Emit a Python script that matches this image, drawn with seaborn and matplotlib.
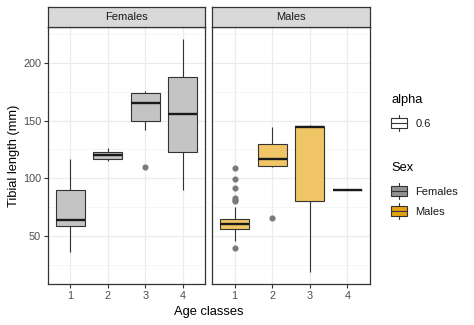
import matplotlib
matplotlib.use("Agg")
import matplotlib.pyplot as plt
import seaborn as sns
import pandas as pd
from matplotlib.patches import Patch, Rectangle
from matplotlib.lines import Line2D
from matplotlib.legend_handler import HandlerBase

sns.set_theme(style="white")
plt.rcParams['font.family'] = ['Liberation Sans', 'DejaVu Sans']

# ---- data ----
sexes = ["Females", "Males"]
age_classes = [1, 2, 3, 4]
females_age1 = [36, 58.6, 64, 90, 117]
females_age2 = [115.4, 116.3, 120, 123, 126]
females_age3 = [110, 142, 150, 150, 165, 170, 174, 175, 176]
females_age4 = [90, 123, 156, 188, 221]
males_age1 = [40, 46, 48, 50, 51, 52, 53, 55, 56, 57, 57.5, 58, 58.5, 59, 59.5,
              60, 60.6, 61, 61.5, 62, 62.5, 63, 63.5, 64, 65, 70, 75,
              80, 81.4, 83, 91.5, 99.3, 108.5]
males_age2 = [65.5, 110, 111, 114, 117, 122, 129.6, 138, 144.6]
males_age3 = [18.5, 80.5, 144.6, 145, 146.6]
males_age4 = [90]

groups = {
    ("Females", 1): females_age1, ("Females", 2): females_age2,
    ("Females", 3): females_age3, ("Females", 4): females_age4,
    ("Males", 1): males_age1, ("Males", 2): males_age2,
    ("Males", 3): males_age3, ("Males", 4): males_age4,
}
rows = []
for (sex, age), vals in groups.items():
    for v in vals:
        rows.append({"Sex": sex, "Age": age, "Length": v})
df = pd.DataFrame(rows)

key_colors = {"Females": "#929292", "Males": "#E5A00F"}
fill_colors = {"Females": "#C4C4C4", "Males": "#F0C566"}
edge = "#333333"

W, H = 474, 325
fig = plt.figure(figsize=(W / 100, H / 100), dpi=100)

panel_x = [(48, 205), (212, 370)]
top_px, bot_px, strip_top = 27, 284, 7

for (x0, x1), sex in zip(panel_x, sexes):
    ax = fig.add_axes([x0 / W, 1 - bot_px / H, (x1 - x0) / W, (bot_px - top_px) / H])
    sub = df[df["Sex"] == sex]
    sns.boxplot(data=sub, x="Age", y="Length", order=age_classes, ax=ax,
                color=fill_colors[sex], saturation=1, width=0.78,
                linecolor=edge, linewidth=0.8, showcaps=False,
                medianprops=dict(color="#1A1A1A", linewidth=1.7),
                flierprops=dict(marker="o", markersize=3.4,
                                markerfacecolor="#7A7A7A", markeredgecolor="#7A7A7A"),
                zorder=3)
    ax.set_ylim(8.4, 231.1)
    ax.set_xlim(-0.6, 3.6)
    ax.set_facecolor("white")
    ax.set_yticks([50, 100, 150, 200])
    ax.set_yticks([25, 75, 125, 175, 225], minor=True)
    ax.grid(True, which="major", color="#EBEBEB", linewidth=0.9, zorder=0)
    ax.grid(True, which="minor", axis="y", color="#F2F2F2", linewidth=0.5, zorder=0)
    ax.set_axisbelow(True)
    for s in ax.spines.values():
        s.set_color("#333333")
        s.set_linewidth(0.9)
    ax.tick_params(axis="both", which="major", length=3, width=0.8, color="#333333",
                   labelsize=7.8, labelcolor="#4D4D4D", pad=2,
                   left=True, bottom=True)
    ax.tick_params(axis="y", which="minor", length=0)
    ax.set_xlabel("")
    ax.set_ylabel("")
    if sex == "Males":
        ax.tick_params(axis="y", labelleft=False, left=False)
    # strip
    sax = fig.add_axes([x0 / W, 1 - top_px / H, (x1 - x0) / W, (top_px - strip_top) / H])
    sax.set_facecolor("#D9D9D9")
    sax.set_xticks([]); sax.set_yticks([])
    for s in sax.spines.values():
        s.set_color("#333333")
        s.set_linewidth(0.9)
    sax.text(0.5, 0.5, sex, ha="center", va="center", fontsize=8, color="#1A1A1A",
             transform=sax.transAxes)

fig.text((48 + 370) / 2 / W, 1 - 312 / H, "Age classes", ha="center", va="center",
         fontsize=9.3, color="black")
fig.text(14 / W, 1 - ((top_px + bot_px) / 2) / H, "Tibial length (mm)", ha="center",
         va="center", rotation=90, fontsize=9.3, color="black")


class BoxKey(HandlerBase):
    def create_artists(self, legend, orig_handle, xdescent, ydescent, width, height,
                       fontsize, trans):
        x0, y0 = -xdescent, -ydescent
        cx = x0 + width / 2
        face = orig_handle.get_facecolor()
        rect = Rectangle((x0, y0 + 0.17 * height), width, 0.66 * height,
                         facecolor=face, edgecolor=edge, linewidth=0.8, transform=trans)
        med = Line2D([x0, x0 + width], [y0 + 0.5 * height] * 2, color=edge, lw=0.8,
                     transform=trans)
        w1 = Line2D([cx, cx], [y0 - 0.05 * height, y0 + 0.17 * height], color=edge,
                    lw=0.8, transform=trans)
        w2 = Line2D([cx, cx], [y0 + 0.83 * height, y0 + 1.05 * height], color=edge,
                    lw=0.8, transform=trans)
        return [rect, med, w1, w2]


common = dict(frameon=False, handler_map={Patch: BoxKey()}, fontsize=8,
              title_fontsize=9.3, alignment="left", handlelength=1.45, handleheight=1.62,
              handletextpad=0.75, labelspacing=0.5, borderaxespad=0, borderpad=0)
leg1 = fig.legend([Patch(facecolor="white")], ["0.6"], title="alpha",
                  loc="upper left", bbox_to_anchor=(391 / W, 1 - 94 / H), **common)
leg2 = fig.legend([Patch(facecolor=key_colors[s]) for s in sexes], sexes, title="Sex",
                  loc="upper left", bbox_to_anchor=(391 / W, 1 - 162 / H), **common)
for lg in (leg1, leg2):
    lg._legend_box.sep = 7
    lg.get_title().set_color("black")
    for t in lg.get_texts():
        t.set_color("#1A1A1A")

fig.savefig("out.png", dpi=100)
